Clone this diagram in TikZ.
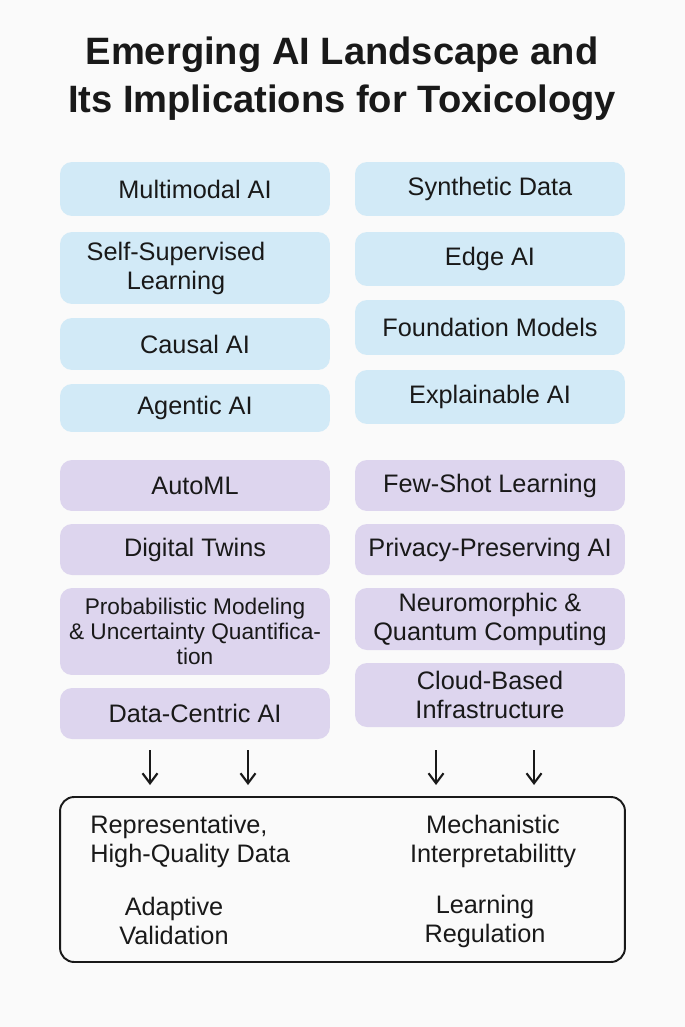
\documentclass[tikz,border=0pt]{standalone}
\usepackage{fontspec}
\setmainfont{Liberation Sans}
\usetikzlibrary{arrows.meta,positioning}
\definecolor{bgcol}{RGB}{250,250,250}
\definecolor{bluebox}{RGB}{210,234,247}
\definecolor{purplebox}{RGB}{221,213,238}
\definecolor{ink}{RGB}{25,25,25}
\tikzset{
  >={Straight Barb[length=2mm,width=3mm]},
  font=\fontsize{14.4}{16.5}\selectfont,
  trend/.style ={rounded corners=6.8pt, minimum width=5.4cm, align=center, fill=bluebox, text=ink, inner sep=0pt},
  infra/.style ={rounded corners=6.8pt, minimum width=5.4cm, align=center, fill=purplebox, text=ink, inner sep=0pt},
  impl/.style  ={draw=ink, line width=1.1pt, rounded corners=8pt, minimum width=11.3cm, minimum height=3.3cm},
  txt/.style   ={align=center, text=ink, inner sep=0pt},
  arr/.style   ={->, line width=1.2pt, draw=ink},
}

\begin{document}
\begin{tikzpicture}[x=0.02cm, y=-0.02cm]
  \fill[bgcol] (0,0) rectangle (685,1027);
  \useasboundingbox (0,0) rectangle (685,1027);

  \node[txt, font=\fontsize{21.7}{27.3}\selectfont\bfseries] (title) at (342,79) {Emerging AI Landscape and\\Its Implications for Toxicology};

  % emerging methods
  \node[trend, minimum height=1.08cm] (mm) at (195,189) {Multimodal AI};
  \node[trend, minimum height=1.44cm, label={[txt, xshift=-0.38cm]center:Self-Supervised\\Learning}] (ssl) at (195,268) {};
  \node[trend, minimum height=1.04cm] (causal) at (195,344) {Causal AI};
  \node[trend, minimum height=0.96cm] (agentic) at (195,408) {Agentic AI};
  \node[trend, minimum height=1.08cm] (synth) at (490,189) {Synthetic Data};
  \node[trend, minimum height=1.08cm] (edge) at (490,259) {Edge AI};
  \node[trend, minimum height=1.10cm] (found) at (490,327.5) {Foundation Models};
  \node[trend, minimum height=1.08cm] (xai) at (490,397) {Explainable AI};

  % tools and infrastructure
  \node[infra, minimum height=1.02cm] (automl) at (195,485.5) {AutoML};
  \node[infra, minimum height=1.02cm] (twins) at (195,549.5) {Digital Twins};
  \node[infra, minimum height=1.74cm, font=\fontsize{12.9}{14.2}\selectfont] (prob) at (195,631.5) {Probabilistic Modeling\\\& Uncertainty Quantifica-\\tion};
  \node[infra, minimum height=1.02cm] (dca) at (195,713.5) {Data-Centric AI};
  \node[infra, minimum height=1.02cm] (fewshot) at (490,485.5) {Few-Shot Learning};
  \node[infra, minimum height=1.02cm] (privacy) at (490,549.5) {Privacy-Preserving AI};
  \node[infra, minimum height=1.24cm] (neuro) at (490,619) {Neuromorphic \&\\Quantum Computing};
  \node[infra, minimum height=1.28cm] (cloud) at (490,695) {Cloud-Based\\Infrastructure};

  % implications
  \node[impl] (tox) at (342.5,879.5) {};
  \node[txt, align=left, anchor=west] (data) at (90,841) {Representative,\\High-Quality Data};
  \node[txt] (mech) at (493,841) {Mechanistic\\Interpretabilitty};
  \node[txt] (valid) at (174,921) {Adaptive\\Validation};
  \node[txt] (reg) at (485,921) {Learning\\Regulation};

  \foreach \i/\x in {1/150,2/248,3/436,4/534}{
    \coordinate (s\i) at (\x,750);
    \coordinate (e\i) at (\x,785);
    \draw[arr] (s\i) -- (e\i);
  }
\end{tikzpicture}
\end{document}
